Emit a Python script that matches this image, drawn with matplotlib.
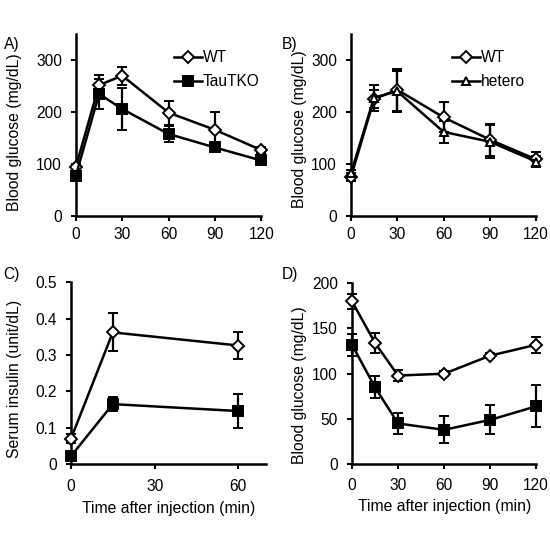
import numpy as np
import matplotlib
matplotlib.use("Agg")
import matplotlib.pyplot as plt
from matplotlib.lines import Line2D

plt.rcParams['font.family'] = ['Liberation Sans', 'DejaVu Sans']
plt.rcParams['font.size'] = 11

# panel A: glucose tolerance, WT vs TauTKO
time_gtt = [0, 15, 30, 60, 90, 120]
a_wt = [95, 252, 270, 199, 166, 127]
a_wt_err = [6, 19, 17, 23, 34, 5]
a_ko = [78, 235, 206, 158, 132, 107]
a_ko_err = [5, 29, 40, 16, 6, 4]

# panel B: WT vs hetero
b_wt = [75, 225, 243, 190, 147, 109]
b_wt_err = [8, 18, 40, 29, 31, 15]
b_het = [82, 228, 240, 162, 143, 105]
b_het_err = [6, 25, 40, 21, 32, 11]

# panel C: serum insulin
time_ins = [0, 15, 60]
c_wt = [0.07, 0.362, 0.326]
c_wt_err = [0.012, 0.052, 0.038]
c_ko = [0.022, 0.165, 0.146]
c_ko_err = [0.008, 0.02, 0.046]

# panel D: insulin tolerance
d_wt = [180, 134, 98, 100, 120, 132]
d_wt_err = [8, 11, 6, 3, 3, 9]
d_ko = [132, 85, 45, 38, 49, 64]
d_ko_err = [12, 12, 12, 15, 16, 23]

FS = 11.2
LFS = 11.3


def style_axis(ax, xlim, ylim, xticks, yticks, yfmt, xpad):
    for side in ['top', 'right']:
        ax.spines[side].set_visible(False)
    for side in ['left', 'bottom']:
        ax.spines[side].set_linewidth(1.8)
    ax.set_xlim(*xlim)
    ax.set_ylim(*ylim)
    ax.set_xticks(xticks)
    ax.set_yticks(yticks)
    ax.set_yticklabels([yfmt(v) for v in yticks])
    ax.tick_params(direction='out', length=3.6, width=1.5, labelsize=FS)
    ax.tick_params(axis='y', pad=6.5)
    ax.tick_params(axis='x', pad=xpad)


def mstyle(marker, filled):
    return dict(marker=marker, markersize=7.5 if marker == 's' else 6,
                markerfacecolor='black' if filled else 'white',
                markeredgecolor='black', markeredgewidth=1.4)


def series(ax, x, y, err, marker, filled):
    ax.errorbar(x, y, yerr=err, color='black', lw=1.8, elinewidth=1.6,
                capsize=3.5, capthick=1.6, clip_on=False, zorder=3,
                **mstyle(marker, filled))


def legend(ax, items, x0):
    handles = [Line2D([], [], color='black', lw=1.8, **mstyle(m, f)) for m, f, _ in items]
    ax.legend(handles, [t for _, _, t in items], loc='upper left',
              bbox_to_anchor=(x0, 1.0), frameon=False, fontsize=FS,
              handlelength=1.8, handletextpad=0.05, labelspacing=0.55,
              borderaxespad=0.65)


def ylabel(ax, text, x, y):
    ax.set_ylabel(text, fontsize=LFS)
    ax.yaxis.set_label_coords(x, y)


fig = plt.figure(figsize=(5.5, 5.5), dpi=100)

axA = fig.add_axes([0.138, 0.607, 0.337, 0.331])
series(axA, time_gtt, a_wt, a_wt_err, 'D', False)
series(axA, time_gtt, a_ko, a_ko_err, 's', True)
style_axis(axA, (0, 120), (0, 350), [0, 30, 60, 90, 120], [0, 100, 200, 300],
           lambda v: f"{v:d}", 4)
ylabel(axA, "Blood glucose (mg/dL)", -0.292, 0.46)
legend(axA, [('D', False, 'WT'), ('s', True, 'TauTKO')], 0.44)

axB = fig.add_axes([0.638, 0.607, 0.337, 0.331])
series(axB, time_gtt, b_wt, b_wt_err, 'D', False)
series(axB, time_gtt, b_het, b_het_err, '^', False)
style_axis(axB, (0, 120), (0, 350), [0, 30, 60, 90, 120], [0, 100, 200, 300],
           lambda v: f"{v:d}", 4)
ylabel(axB, "Blood glucose (mg/dL)", -0.238, 0.475)
legend(axB, [('D', False, 'WT'), ('^', False, 'hetero')], 0.46)

axC = fig.add_axes([0.129, 0.156, 0.355, 0.331])
series(axC, time_ins, c_wt, c_wt_err, 'D', False)
series(axC, time_ins, c_ko, c_ko_err, 's', True)
style_axis(axC, (0, 70), (0, 0.5), [0, 30, 60], [0, 0.1, 0.2, 0.3, 0.4, 0.5],
           lambda v: "0" if v == 0 else f"{v:.1f}", 7)
ylabel(axC, "Serum insulin (unit/dL)", -0.251, 0.467)
axC.set_xlabel("Time after injection (min)", fontsize=LFS, labelpad=5)

axD = fig.add_axes([0.64, 0.156, 0.335, 0.329])
series(axD, time_gtt, d_wt, d_wt_err, 'D', False)
series(axD, time_gtt, d_ko, d_ko_err, 's', True)
style_axis(axD, (0, 120), (0, 200), [0, 30, 60, 90, 120], [0, 50, 100, 150, 200],
           lambda v: f"{v:d}", 6)
ylabel(axD, "Blood glucose (mg/dL)", -0.245, 0.436)
axD.set_xlabel("Time after injection (min)", fontsize=LFS, labelpad=5)

for lbl, x, y in [("A)", 0.008, 0.92), ("B)", 0.512, 0.92), ("C)", 0.005, 0.5), ("D)", 0.512, 0.5)]:
    fig.text(x, y, lbl, fontsize=FS, va='center')

fig.savefig("out.png", dpi=100)
